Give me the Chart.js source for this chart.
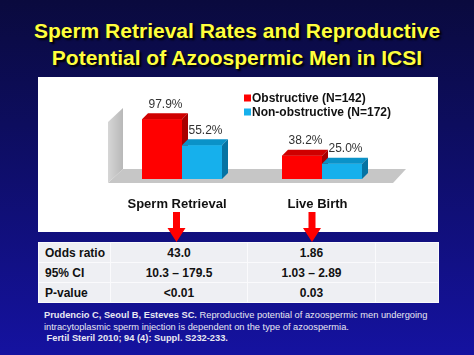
<!DOCTYPE html>
<html><head><meta charset="utf-8">
<script src="https://cdn.jsdelivr.net/npm/chart.js@4.4.1/dist/chart.umd.min.js"></script>
<style>
html,body{margin:0;padding:0;width:474px;height:355px;overflow:hidden;}
body{position:relative;background:linear-gradient(to bottom,#0a0a3e 0%,#0d0d5e 35%,#1512a0 100%);font-family:"Liberation Sans",Arial,sans-serif;}
#title{position:absolute;left:0;top:17px;width:474px;text-align:center;color:#ffff3c;font-weight:bold;font-size:21px;line-height:27px;text-shadow:2px 2px 2px #000;white-space:nowrap;}
#cv{position:absolute;left:38px;top:77px;z-index:1;}
#stats{position:absolute;left:38px;top:242px;width:400px;border-collapse:collapse;background:#eeeff3;z-index:2;table-layout:fixed;}
#stats td{height:19px;padding:0;border:1px solid #fafafc;font-size:12px;font-weight:bold;color:#111;text-align:center;}
#stats td.lab{text-align:left;padding-left:6px;}
#cite{position:absolute;left:44px;top:310px;font-size:9.3px;line-height:11.5px;color:#e8e8f2;white-space:nowrap;}
</style></head>
<body>
<div id="title">Sperm Retrieval Rates and Reproductive<br>Potential of Azoospermic Men in ICSI</div>
<canvas id="cv" width="400" height="166"></canvas>
<table id="stats"><colgroup><col style="width:72px"><col style="width:137px"><col style="width:128px"><col style="width:63px"></colgroup><tbody id="tb"></tbody></table>
<div id="cite"><b>Prudencio C, Seoul B, Esteves SC.</b> Reproductive potential of azoospermic men undergoing<br>intracytoplasmic sperm injection is dependent on the type of azoospermia.<br><b>&nbsp;Fertil Steril 2010; 94 (4): Suppl. S232-233.</b></div>
<script>
const categories = ['Sperm Retrieval', 'Live Birth'];
const seriesLabels = ['Obstructive (N=142)', 'Non-obstructive (N=172)'];
const obstructive = [97.9, 38.2];
const nonObstructive = [55.2, 25.0];
const statLabels = ['Odds ratio', '95% CI', 'P-value'];
const spermRetrievalStats = ['43.0', '10.3 \u2013 179.5', '<0.01'];
const liveBirthStats = ['1.86', '1.03 \u2013 2.89', '0.03'];

// table
const tb = document.getElementById('tb');
statLabels.forEach((lab, i) => {
  const tr = document.createElement('tr');
  [lab, spermRetrievalStats[i], liveBirthStats[i], ''].forEach((t, j) => {
    const td = document.createElement('td');
    td.textContent = t;
    if (j === 0) td.className = 'lab';
    tr.appendChild(td);
  });
  tb.appendChild(tr);
});

const FRONT = ['#ff0000', '#16b0ec'];
const TOP = ['#cf0000', '#0a92c8'];
const SIDE = ['#a80000', '#0673a3'];
const DX = 6, DY = 6;
const LABEL_SHIFT = [-5, -4.5];
const ARROW_SHIFT = [-5.5, -10];

const deco = {
  id: 'deco',
  beforeDraw(chart) {
    const c = chart.ctx;
    c.save();
    c.fillStyle = '#ffffff';
    c.fillRect(0, 0, chart.width, 155);
    c.restore();
  },
  beforeDatasetsDraw(chart) {
    const c = chart.ctx, a = chart.chartArea, y = chart.scales.y;
    const z = y.getPixelForValue(0), t = y.getPixelForValue(100);
    c.save();
    // floor
    c.fillStyle = '#c6c6c6';
    c.beginPath();
    c.moveTo(a.left - 4, z + 4); c.lineTo(a.right + 1, z + 4);
    c.lineTo(a.right + 14, z - 10); c.lineTo(a.left + 11, z - 10);
    c.closePath(); c.fill();
    // wall
    const g = c.createLinearGradient(a.left - 4, 0, a.left + 11, 0);
    g.addColorStop(0, '#d6d6d6'); g.addColorStop(1, '#b8b8b8');
    c.fillStyle = g;
    c.beginPath();
    c.moveTo(a.left - 4, z + 4); c.lineTo(a.left - 4, t + 4);
    c.lineTo(a.left + 11, t - 10); c.lineTo(a.left + 11, z - 10);
    c.closePath(); c.fill();
    c.restore();
  },
  afterDatasetsDraw(chart) {
    const c = chart.ctx;
    c.save();
    const n = chart.data.labels.length;
    for (let i = 0; i < n; i++) {
      chart.data.datasets.forEach((ds, d) => {
        const el = chart.getDatasetMeta(d).data[i];
        const l = el.x - el.width / 2, r = el.x + el.width / 2, top = el.y, b = el.base;
        c.fillStyle = FRONT[d];
        c.fillRect(l, top, r - l, b - top);
        c.fillStyle = TOP[d];
        c.beginPath();
        c.moveTo(l, top); c.lineTo(l + DX, top - DY); c.lineTo(r + DX, top - DY); c.lineTo(r, top);
        c.closePath(); c.fill();
        c.fillStyle = SIDE[d];
        c.beginPath();
        c.moveTo(r, top); c.lineTo(r + DX, top - DY); c.lineTo(r + DX, b - DY); c.lineTo(r, b);
        c.closePath(); c.fill();
      });
    }
    // value labels
    c.font = '12px "Liberation Sans", Arial, sans-serif';
    c.fillStyle = '#333333';
    c.textAlign = 'center';
    c.textBaseline = 'bottom';
    chart.data.datasets.forEach((ds, d) => {
      chart.getDatasetMeta(d).data.forEach((el, i) => {
        c.fillText(ds.data[i].toFixed(1) + '%', el.x + 3.5, el.y - DY - 3);
      });
    });
    c.restore();
  },
  afterDraw(chart) {
    const c = chart.ctx, x = chart.scales.x;
    c.save();
    // legend
    chart.data.datasets.forEach((ds, d) => {
      const yy = 21 + d * 14;
      c.fillStyle = FRONT[d];
      c.fillRect(206, yy - 3.5, 7, 7);
      c.fillStyle = '#111111';
      c.font = 'bold 12px "Liberation Sans", Arial, sans-serif';
      c.textAlign = 'left';
      c.textBaseline = 'middle';
      c.fillText(ds.label, 214, yy + 0.5);
    });
    // category labels + arrows
    chart.data.labels.forEach((lab, i) => {
      const px = x.getPixelForValue(i);
      c.fillStyle = '#111111';
      c.font = 'bold 13px "Liberation Sans", Arial, sans-serif';
      c.textAlign = 'center';
      c.textBaseline = 'middle';
      c.fillText(lab, px + LABEL_SHIFT[i], 127);
      const ax = px + ARROW_SHIFT[i];
      c.fillStyle = '#ff0000';
      c.beginPath();
      c.moveTo(ax - 3.5, 135); c.lineTo(ax + 3.5, 135); c.lineTo(ax + 3.5, 151);
      c.lineTo(ax + 9, 151); c.lineTo(ax, 165); c.lineTo(ax - 9, 151); c.lineTo(ax - 3.5, 151);
      c.closePath(); c.fill();
    });
    c.restore();
  }
};

new Chart(document.getElementById('cv'), {
  type: 'bar',
  data: {
    labels: categories,
    datasets: [
      { label: seriesLabels[0], data: obstructive, backgroundColor: FRONT[0] },
      { label: seriesLabels[1], data: nonObstructive, backgroundColor: FRONT[1] }
    ]
  },
  options: {
    responsive: false,
    animation: false,
    events: [],
    layout: { padding: { left: 74, right: 46, top: 41, bottom: 64 } },
    datasets: { bar: { barPercentage: 1, categoryPercentage: 80 / 140 } },
    plugins: { legend: { display: false }, tooltip: { enabled: false } },
    scales: {
      x: { display: false },
      y: { display: false, min: 0, max: 100 }
    }
  },
  plugins: [deco]
});
</script>
</body></html>
